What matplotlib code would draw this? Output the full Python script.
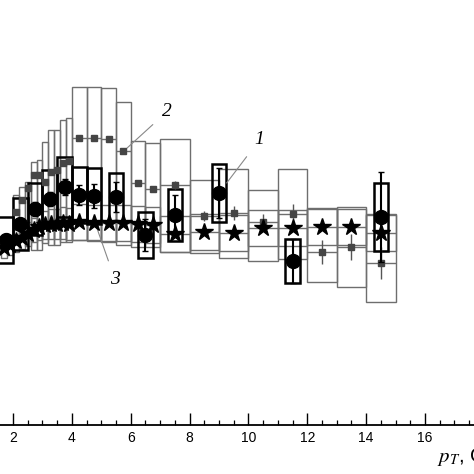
import numpy as np
import matplotlib.pyplot as plt
from matplotlib.ticker import MultipleLocator

plt.rcParams['mathtext.fontset'] = 'stix'
plt.rcParams['font.family'] = ['Liberation Sans', 'DejaVu Sans']

# series 1: circles (stat errors + systematic boxes)
x1 = [1.75, 2.25, 2.75, 3.25, 3.75, 4.25, 4.75, 5.5, 6.5, 7.5, 9.0, 11.5, 14.5]
y1 = [1.85, 2.01, 2.16, 2.26, 2.38, 2.30, 2.29, 2.28, 1.90, 2.10, 2.32, 1.64, 2.08]
err1 = [0.06, 0.06, 0.07, 0.07, 0.08, 0.10, 0.12, 0.15, 0.16, 0.20, 0.25, 0.22, 0.45]
sys1 = [0.23, 0.26, 0.26, 0.29, 0.30, 0.28, 0.28, 0.24, 0.23, 0.26, 0.29, 0.22, 0.34]

# series 2: squares
x2 = [2.1, 2.3, 2.5, 2.7, 2.9, 3.1, 3.3, 3.5, 3.7, 3.9,
      4.25, 4.75, 5.25, 5.75, 6.25, 6.75, 7.5, 8.5, 9.5, 10.5, 11.5, 12.5, 13.5, 14.5]
y2 = [2.13, 2.25, 2.37, 2.50, 2.50, 2.43, 2.53, 2.55, 2.62, 2.64,
      2.87, 2.87, 2.86, 2.74, 2.42, 2.36, 2.40, 2.09, 2.12, 2.03, 2.11, 1.73, 1.78, 1.62]
err2 = [0.02, 0.02, 0.02, 0.02, 0.02, 0.02, 0.02, 0.02, 0.02, 0.02,
        0.02, 0.02, 0.02, 0.03, 0.03, 0.03, 0.04, 0.05, 0.07, 0.08, 0.10, 0.12, 0.13, 0.16]
hi2 = [2.30, 2.38, 2.43, 2.63, 2.65, 2.83, 2.95, 2.95, 3.05, 3.07,
       3.38, 3.38, 3.37, 3.23, 2.84, 2.82, 2.86, 2.45, 2.56, 2.35, 2.56, 2.17, 2.18, 2.11]
lo2 = [1.90, 1.97, 1.93, 1.75, 1.75, 1.82, 1.80, 1.80, 1.83, 1.83,
       1.85, 1.85, 1.83, 1.80, 1.78, 1.78, 1.73, 1.72, 1.67, 1.64, 1.66, 1.43, 1.38, 1.23]

# series 3: stars
x3 = [1.7, 1.9, 2.1, 2.3, 2.5, 2.7, 2.9, 3.1, 3.3, 3.5, 3.7, 3.9,
      4.25, 4.75, 5.25, 5.75, 6.25, 6.75, 7.5, 8.5, 9.5, 10.5, 11.5, 12.5, 13.5, 14.5]
y3 = [1.77, 1.80, 1.84, 1.87, 1.91, 1.95, 1.98, 2.00, 2.01, 2.01, 2.02, 2.01,
      2.03, 2.02, 2.02, 2.02, 2.01, 2.00, 1.91, 1.93, 1.92, 1.97, 1.97, 1.98, 1.98, 1.92]
sys3 = [0.10, 0.10, 0.11, 0.11, 0.12, 0.12, 0.13, 0.14, 0.15, 0.15, 0.16, 0.16,
        0.18, 0.18, 0.18, 0.18, 0.18, 0.18, 0.18, 0.18, 0.18, 0.18, 0.18, 0.18, 0.18, 0.18]


def bin_width(x):
    x = np.asarray(x)
    return np.where(x < 4, 0.2, np.where(x < 7, 0.5, 1.0))


fig = plt.figure(figsize=(4.74, 4.74), dpi=100)
ax = fig.add_axes([0, 49 / 474, 1, 425 / 474])
ax.set_xlim(1.558, 17.665)
ax.set_ylim(0, 4.25)

# systematic boxes
w2 = bin_width(x2)
ax.bar(x2, np.array(hi2) - np.array(lo2), width=w2, bottom=lo2,
       fill=False, edgecolor='#6e6e6e', linewidth=1.0, zorder=1)
ax.hlines(y2, np.array(x2) - w2 / 2, np.array(x2) + w2 / 2,
          color='#6e6e6e', linewidth=1.0, zorder=1)

w3 = bin_width(x3)
ax.bar(x3, 2 * np.array(sys3), width=w3, bottom=np.array(y3) - np.array(sys3),
       fill=False, edgecolor='#6e6e6e', linewidth=1.0, zorder=1)
ax.hlines(y3, np.array(x3) - w3 / 2, np.array(x3) + w3 / 2,
          color='#6e6e6e', linewidth=1.0, zorder=1)

ax.bar(x1, 2 * np.array(sys1), width=0.5, bottom=np.array(y1) - np.array(sys1),
       fill=False, edgecolor='black', linewidth=1.8, zorder=3)

# points
ax.errorbar(x2, y2, yerr=err2, fmt='s', ms=5, color='#454545',
            ecolor='#555555', elinewidth=1.0, capsize=0, zorder=4)
ax.plot(x3, y3, '*', ms=13, color='black', zorder=5)
ax.errorbar(x1, y1, yerr=err1, fmt='o', ms=10, color='black',
            elinewidth=1.5, capsize=2, zorder=6)

# curve labels
lab = dict(fontsize=14, style='italic', family='DejaVu Serif', ha='center', va='center')
line = dict(arrowstyle='-', color='#888888', lw=0.8, shrinkA=6, shrinkB=0)
ax.annotate('2', xy=(5.84, 2.76), xytext=(7.22, 3.13), arrowprops=line,
            fontfamily='Liberation Serif', fontsize=14, style='italic', ha='center', va='center')
ax.annotate('1', xy=(9.26, 2.42), xytext=(10.37, 2.85), arrowprops=line,
            fontfamily='Liberation Serif', fontsize=14, style='italic', ha='center', va='center')
ax.annotate('3', xy=(4.79, 2.02), xytext=(5.47, 1.45), arrowprops=line,
            fontfamily='Liberation Serif', fontsize=14, style='italic', ha='center', va='center')

# axis styling
for s in ['top', 'left', 'right']:
    ax.spines[s].set_visible(False)
ax.spines['bottom'].set_linewidth(1.3)
ax.xaxis.set_major_locator(MultipleLocator(2))
ax.xaxis.set_minor_locator(MultipleLocator(0.5))
ax.tick_params(axis='x', which='major', direction='in', length=8.5, width=1.0,
               labelsize=10, pad=4)
ax.tick_params(axis='x', which='minor', direction='in', length=3.6, width=0.9)
ax.set_yticks([])

fig.text(437 / 474, 1 - 462 / 474, r'$p_T$, GeV/$c$', fontsize=15,
         ha='left', va='baseline')

fig.savefig('out.png', dpi=100)
